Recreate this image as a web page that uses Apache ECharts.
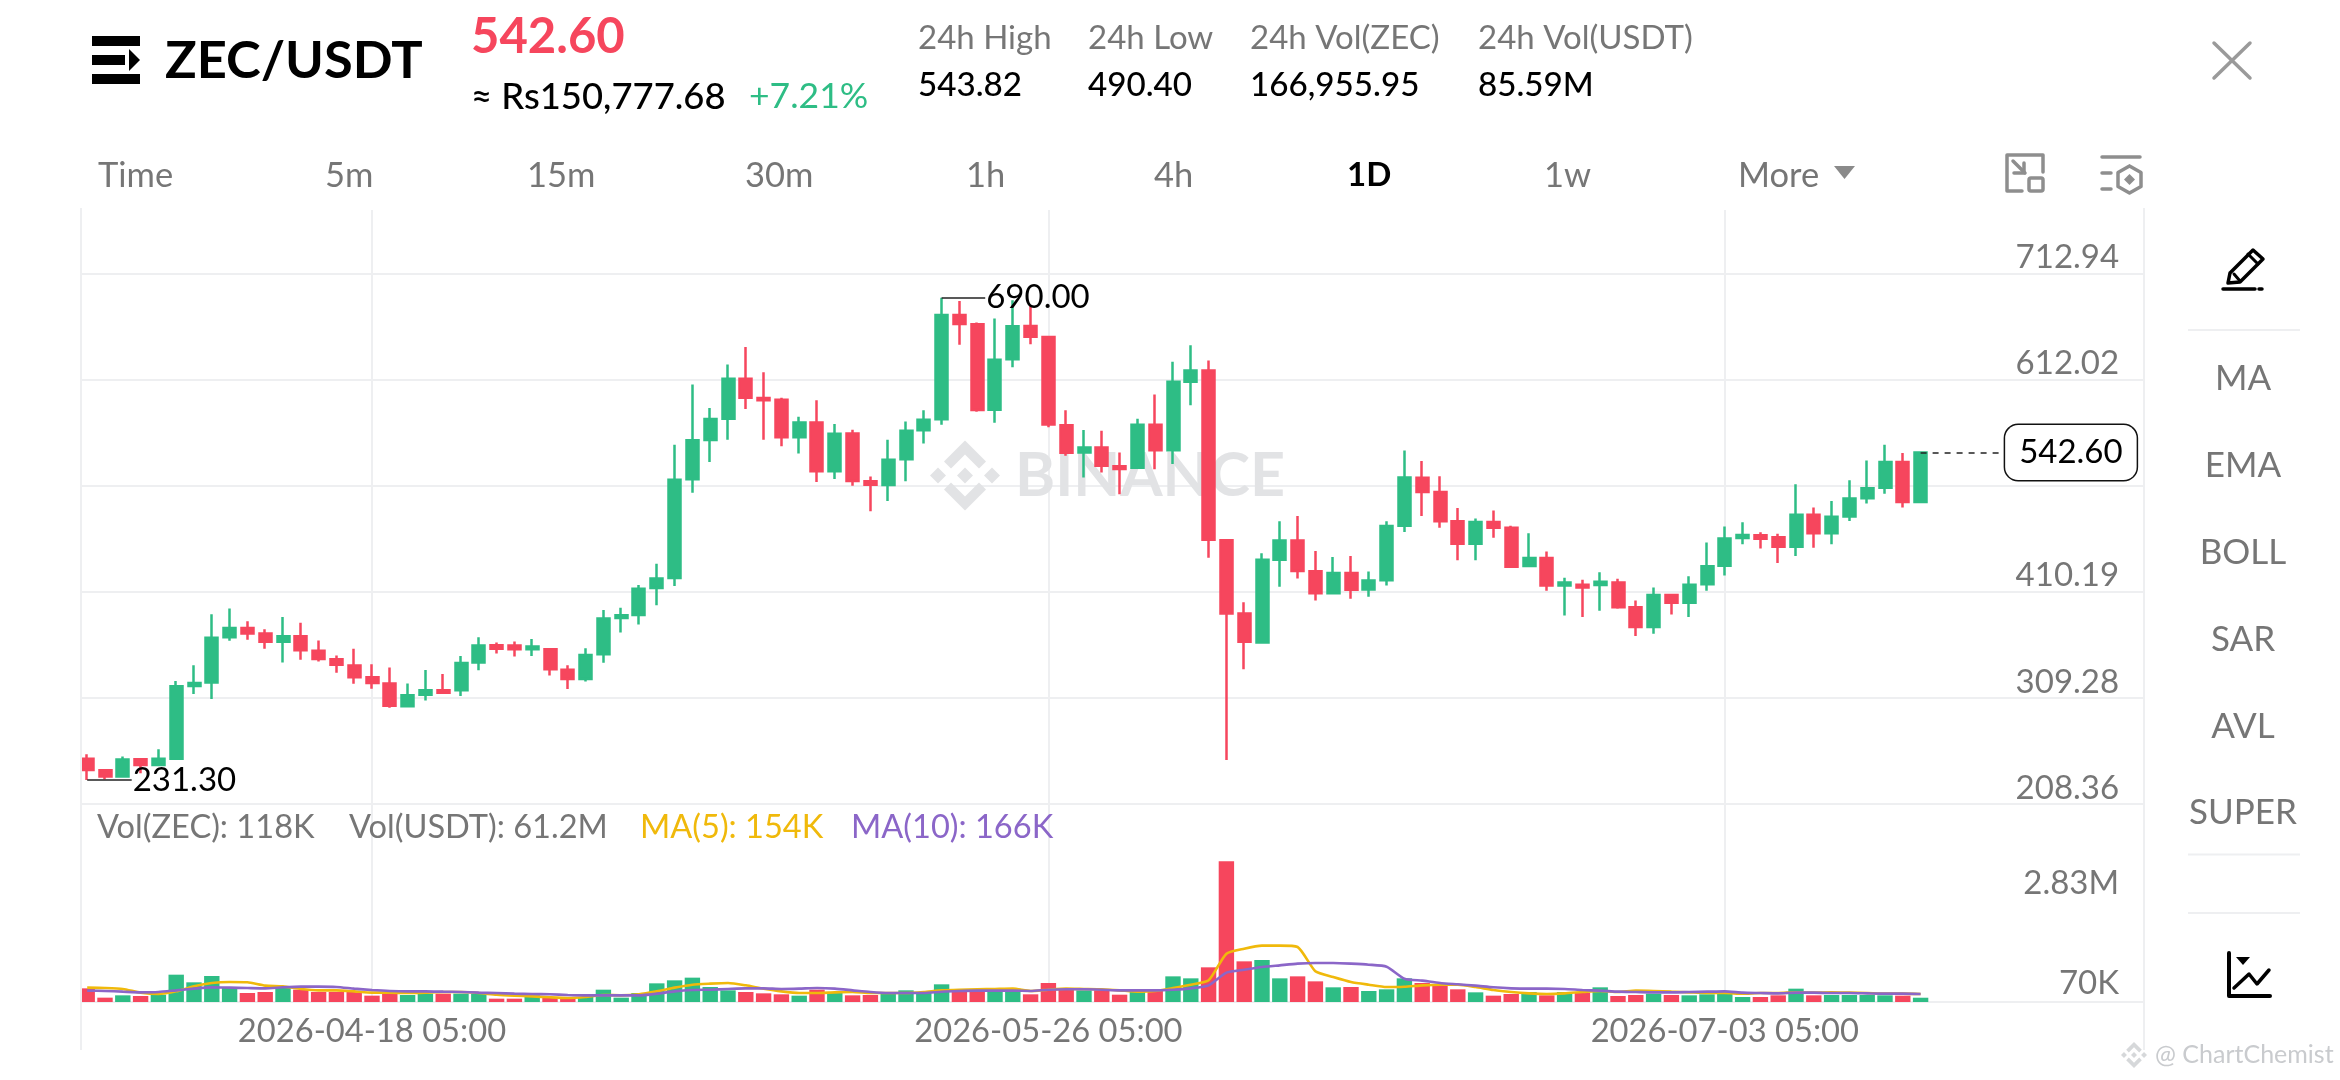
<!DOCTYPE html>
<html><head><meta charset="utf-8">
<script src="https://cdn.jsdelivr.net/npm/echarts@6/dist/echarts.min.js"></script>
<style>html,body{margin:0;padding:0;background:#fff}#c{width:2340px;height:1080px}</style>
</head><body><div id="c"></div>
<script>
const opens=[251.3,240.5,234.6,251.0,245.4,251.3,320.7,324.0,366.9,375.8,370.5,362.7,367.9,354.2,346.0,340.1,328.9,323.0,301.4,312.2,316.5,316.5,343.0,359.4,359.1,355.5,355.5,336.1,327.3,350.9,385.3,388.2,413.8,423.3,517.3,554.6,574.9,612.9,594.6,592.9,557.2,571.3,524.8,560.8,515.3,511.7,536.3,563.8,574.3,673.5,664.7,583.4,631.3,663.0,652.6,568.7,542.8,547.4,529.7,528.1,569.0,544.8,610.0,620.8,459.3,389.5,362.0,440.6,459.0,429.8,408.9,428.2,412.5,421.3,473.1,518.6,505.2,477.3,456.0,476.7,471.1,434.7,442.3,416.1,417.0,416.7,419.0,395.4,376.8,407.2,399.7,417.4,435.1,461.3,463.9,462.2,453.1,483.5,465.9,481.9,499.3,509.1,533.7,495.7];
const closes=[240.8,234.6,250.7,245.4,251.3,320.4,323.4,366.6,375.8,370.5,362.7,367.9,354.5,346.3,340.7,328.9,323.4,301.7,311.9,316.5,314.2,342.4,359.1,356.1,355.5,358.1,336.5,327.3,350.2,384.9,387.9,413.1,422.9,516.9,554.3,574.6,612.9,594.9,592.3,557.2,571.3,524.8,560.5,515.6,512.0,535.9,563.5,573.9,673.5,665.0,583.1,630.9,662.7,652.9,569.4,542.5,547.4,530.1,527.1,569.0,544.8,610.0,620.8,459.6,389.5,362.7,440.6,459.0,430.1,408.9,428.2,412.1,421.0,472.7,518.9,505.2,477.3,456.0,476.7,471.1,434.1,442.3,416.1,419.0,414.4,419.7,395.4,376.8,407.2,399.7,417.0,434.4,460.9,464.2,460.6,453.1,483.5,465.9,481.6,498.9,508.8,533.7,495.7,542.6];
const lows=[231.3,232.0,233.3,237.5,245.0,250.3,312.9,308.3,363.7,364.6,356.1,343.0,345.6,344.0,333.2,322.7,318.1,299.8,301.0,306.7,314.0,311.2,335.5,351.5,348.6,349.2,330.6,317.8,325.0,342.7,371.5,379.1,397.4,415.7,504.5,533.7,554.9,584.1,554.9,548.7,541.8,514.7,517.6,511.1,486.8,496.6,515.3,551.3,569.0,645.3,581.5,571.0,623.7,645.7,566.7,539.5,518.9,523.8,502.9,527.1,526.8,531.7,587.7,442.6,250.3,336.5,361.8,415.1,422.9,402.0,408.5,403.6,405.6,416.1,467.2,482.2,471.1,440.3,440.3,461.6,432.8,434.4,411.1,387.6,386.3,392.2,394.1,368.2,370.2,388.6,386.3,411.1,425.6,455.4,451.4,437.7,444.2,452.1,455.4,477.6,494.3,503.5,490.4,495.7];
const highs=[255.6,241.5,253.6,251.3,260.5,325.3,340.4,388.9,394.4,382.3,374.5,386.3,380.7,364.0,349.6,356.1,341.4,338.1,323.0,335.8,331.9,349.2,366.9,362.0,363.0,365.3,355.7,340.4,356.4,392.8,395.1,416.7,437.0,550.0,607.4,585.1,626.3,643.1,619.1,594.9,576.6,592.3,569.7,564.4,519.9,554.9,572.3,582.8,690.0,686.9,666.3,670.2,687.6,682.0,652.9,582.8,564.1,563.5,542.8,574.9,597.9,629.0,644.7,630.3,459.6,400.3,446.9,477.3,482.2,449.1,443.2,444.2,429.5,477.3,544.5,534.6,520.2,489.8,479.9,487.5,473.1,465.9,448.5,423.6,421.6,428.8,422.6,402.0,414.4,407.3,424.9,457.0,472.4,476.3,466.8,465.5,512.4,490.4,496.6,516.3,535.0,550.0,542.2,543.0];
const volumesK=[377,120,184,166,202,754,543,718,386,248,276,386,340,276,276,285,175,248,193,230,230,230,230,92,92,184,138,92,138,340,120,248,515,598,672,414,322,276,239,212,175,340,248,184,193,267,322,248,488,276,276,386,368,212,524,368,322,322,202,276,304,708,653,957,3882,1122,1159,653,708,570,405,414,304,350,653,524,460,350,267,175,221,276,184,276,258,405,166,193,230,193,184,212,230,138,138,184,368,184,193,193,193,184,175,118];
const ma5K=[396,386,359,258,221,294,432,524,552,543,451,432,359,322,322,294,258,258,248,258,276,276,248,202,175,156,129,110,138,193,184,212,294,396,478,506,524,460,368,294,248,248,267,276,248,248,248,276,322,340,350,359,368,304,340,368,359,350,322,285,304,386,478,598,1334,1472,1555,1555,1518,846,690,552,478,414,423,460,478,478,414,331,276,239,221,239,276,304,276,313,304,285,267,248,248,230,248,248,267,258,267,258,248,230,230,221];
const ma10K=[313,304,285,267,276,322,368,405,396,386,377,405,423,423,414,368,331,304,294,294,285,276,258,248,230,221,212,193,184,184,184,184,230,294,331,340,359,377,377,359,368,386,368,322,276,248,248,248,285,304,313,313,313,304,340,350,350,340,322,322,322,340,377,460,810,892,966,1012,1058,1076,1076,1058,1030,975,644,589,524,488,451,405,377,368,368,359,331,313,285,276,267,267,276,285,294,258,248,239,258,258,248,248,239,230,230,221];
const priceTicks=[208.36,309.28,410.19,511.10,612.02,712.94];
const volumeTicksK=[70,2830];
const xTickLabels={16:'2026-04-18 05:00',54:'2026-05-26 05:00',92:'2026-07-03 05:00'};
const tabs=[['Time',98],['5m',325],['15m',527],['30m',745],['1h',966],['4h',1154],['1w',1544],['More',1738]];
const activeTab='1D';
const indicators=[['MA',379],['EMA',466],['BOLL',553],['SAR',640],['AVL',727],['SUPER',813]];
const stats=[['24h High','543.82',918],['24h Low','490.40',1088],['24h Vol(ZEC)','166,955.95',1250],['24h Vol(USDT)','85.59M',1478]];
const legendItems=[['Vol(ZEC): 118K',97,'#767676'],['Vol(USDT): 61.2M',349,'#767676'],['MA(5): 154K',640,'#F0B90B'],['MA(10): 166K',851,'#8B66C8']];
const lastPrice=542.60, highMark=690.00, lowMark=231.30;

const RED='#F6465D',GREEN='#2EBD85',GRAY='#767676',LINE='#EEEFF1',FONT='Lato';
const bandCount=116, bandW=17.8, gridLeft=78.3;
const categories=[];
for(let i=0;i<bandCount;i++){const d=new Date(Date.UTC(2026,3,2+i));categories.push(d.toISOString().slice(0,10)+' 05:00');}
const candleData=opens.map((o,i)=>[o,closes[i],lows[i],highs[i]]);

function T(x,y,text,size,color,weight,align){
  return {type:'text',x,y,z:50,silent:true,style:{text,fill:color,font:`${weight||'normal'} ${size}px ${FONT}`,textAlign:align||'left',textVerticalAlign:'middle'}};
}
function R(x,y,w,h,fill,z){return {type:'rect',z:z||50,silent:true,shape:{x,y,width:w,height:h},style:{fill}};}
function L(x1,y1,x2,y2,color,width){return {type:'line',z:50,silent:true,shape:{x1,y1,x2,y2},style:{stroke:color,lineWidth:width||2,lineCap:'round'}};}
function P(points,fill,z){return {type:'polygon',z:z||50,silent:true,shape:{points},style:{fill}};}
function PL(points,color,width){return {type:'polyline',z:50,silent:true,shape:{points},style:{stroke:color,lineWidth:width,fill:null,lineJoin:'round',lineCap:'round'}};}
function binanceMark(cx,cy,r,c,z){
  const s=r/35;
  const q=(dx,dy,rr)=>[[cx+dx*s,cy+(dy-rr)*s],[cx+(dx+rr)*s,cy+dy*s],[cx+dx*s,cy+(dy+rr)*s],[cx+(dx-rr)*s,cy+dy*s]];
  return [
    P(q(0,0,8),c,z),P(q(-27,0,8),c,z),P(q(27,0,8),c,z),
    P([[cx,cy-35*s],[cx+21*s,cy-14*s],[cx+14*s,cy-7*s],[cx,cy-21*s],[cx-14*s,cy-7*s],[cx-21*s,cy-14*s]],c,z),
    P([[cx,cy+35*s],[cx+21*s,cy+14*s],[cx+14*s,cy+7*s],[cx,cy+21*s],[cx-14*s,cy+7*s],[cx-21*s,cy+14*s]],c,z)
  ];
}
const g=[];
// watermark (beneath the series)
g.push(...binanceMark(965,475.6,35,'#E2E3E5',1));
g.push({type:'text',x:1015,y:476,z:1,silent:true,style:{text:'BINANCE',fill:'#E2E3E5',font:`bold 61px ${FONT}`,textVerticalAlign:'middle'}});
// frame
g.push(R(60,205,20.5,850,'#fff',40));
g.push(R(80,208,2,842,LINE,41));
g.push(R(2143,208,2,842,LINE,41));
// header
g.push(R(92,36,48,10,'#000'),R(92,55,33,10,'#000'),P([[129,49],[140,60],[129,71]],'#000'),R(92,74,48,10,'#000'));
g.push(T(165,61,'ZEC/USDT',52.4,'#000','bold'));
g.push(T(471,37,'542.60',49,RED,'bold'));
g.push(T(471,97,'≈ Rs150,777.68',36.4,'#000','500'));
g.push(T(749,97,'+7.21%',35.5,GREEN));
stats.forEach(s=>{g.push(T(s[2],38,s[0],33,GRAY));g.push(T(s[2],85,s[1],33.2,'#000','500'));});
g.push(L(2214,43,2250,78,'#9A9A9A',3.5),L(2250,43,2214,78,'#9A9A9A',3.5));
// tabs
tabs.forEach(t=>g.push(T(t[1],176,t[0],34.5,GRAY)));
g.push(T(1347,175,activeTab,33,'#000','bold'));
g.push(P([[1834,166],[1855,166],[1844.5,179]],'#8A8A8A'));
// toolbar icons
const IC='#8E8E8E';
g.push(PL([[2022,191],[2007,191],[2007,155],[2043,155],[2043,172]],IC,3.5),PL([[2013,161],[2025,173]],IC,3.5),PL([[2024,163],[2024,173],[2014,173]],IC,3.5),{type:'rect',z:50,silent:true,shape:{x:2029,y:178,width:14,height:13,r:2},style:{stroke:IC,lineWidth:3.5,fill:null}});
g.push(L(2102,157,2140,157,IC,3.5),L(2102,173,2111,173,IC,3.5),L(2102,189,2111,189,IC,3.5),PL([[2129.5,166],[2141,172.5],[2141,186.5],[2129.5,193],[2118,186.5],[2118,172.5],[2129.5,166]],IC,3.5),P([[2129.5,174],[2135,179.5],[2129.5,185],[2124,179.5]],IC));
// legends inside the volume pane
legendItems.forEach(l=>g.push(T(l[1],827,l[0],32.6,l[2])));
// side panel
g.push(PL([[2230,273],[2253,250],[2263,259],[2240,282],[2228,283],[2230,273]],'#000',3.5),L(2248,254,2258,264,'#000',3),L(2234,274,2240,281,'#000',3),L(2223,289,2255,289,'#000',3.5),L(2259,289,2262,289,'#000',3.5));
[330,854.5,913].forEach(y=>g.push(R(2188,y-1,112,2,LINE)));
indicators.forEach(m=>g.push(T(2243,m[1],m[0],35,GRAY,'normal','center')));
g.push(PL([[2229,953],[2229,996],[2270,996]],'#000',4),P([[2236,957],[2250,957],[2243,965]],'#000'),PL([[2234,988],[2249,974],[2257,984],[2269,970]],'#000',3.5));
// footer watermark
g.push(...binanceMark(2134,1055,13,'#D6D8DA',50));
g.push(T(2155,1055,'@ ChartChemist',25,'#C9CBCE'));

const chart=echarts.init(document.getElementById('c'),null,{renderer:'canvas',width:2340,height:1080});
const labelCommon={fontFamily:FONT,fontSize:33,lineHeight:32,color:GRAY,inside:true,margin:24,verticalAlign:'bottom',hideOverlap:false,showMinLabel:true,showMaxLabel:true};
const tickFn=i=>xTickLabels[i]!==undefined;
const vertical={show:true,interval:tickFn,alignWithLabel:true,lineStyle:{color:LINE,width:2}};
const markerLabel=(text)=>({show:true,position:'end',distance:1,formatter:text,fontFamily:FONT,fontSize:33,color:'#000'});
chart.setOption({
  animation:false,backgroundColor:'#fff',
  grid:[
    {left:gridLeft,top:210,width:bandW*bandCount,height:594,containLabel:false},
    {left:gridLeft,top:804,width:bandW*bandCount,height:198,containLabel:false}
  ],
  xAxis:[
    {type:'category',gridIndex:0,data:categories,axisLine:{show:false},axisTick:{show:false},axisLabel:{show:false},splitLine:vertical},
    {type:'category',gridIndex:1,data:categories,axisLine:{show:true,lineStyle:{color:LINE,width:2}},axisTick:{show:false},splitLine:vertical,
      axisLabel:{interval:tickFn,formatter:(v,i)=>xTickLabels[i]||'',fontFamily:FONT,fontSize:32.7,color:GRAY,margin:13}},
    {type:'value',gridIndex:0,min:-0.5,max:bandCount-0.5,show:false}
  ],
  yAxis:[
    {type:'value',gridIndex:0,position:'right',min:208.36,max:208.36+594/1.0513,scale:true,
     axisLine:{show:false},axisTick:{show:false,customValues:priceTicks},
     axisLabel:Object.assign({},labelCommon,{customValues:priceTicks,formatter:v=>v.toFixed(2)}),
     splitLine:{show:true,lineStyle:{color:LINE,width:2}}},
    {type:'value',gridIndex:1,position:'right',min:0,max:198*27.6,
     axisLine:{show:false},axisTick:{show:false,customValues:volumeTicksK},
     axisLabel:Object.assign({},labelCommon,{customValues:volumeTicksK,formatter:v=>v>=1000?(v/1000).toFixed(2)+'M':v+'K'}),
     splitLine:{show:false}}
  ],
  series:[
    {type:'candlestick',name:'ZEC/USDT',xAxisIndex:0,yAxisIndex:0,data:candleData,barWidth:12.5,
     itemStyle:{color:GREEN,color0:RED,borderColor:GREEN,borderColor0:RED,borderWidth:2.5}},
    {type:'line',name:'marks',xAxisIndex:2,yAxisIndex:0,data:[[103,lastPrice]],symbol:'none',lineStyle:{opacity:0},silent:true,
     markLine:{silent:true,symbol:'none',animation:false,
       data:[
        [{coord:[48,highMark],lineStyle:{color:'#222',type:'solid',width:1.5},label:markerLabel(highMark.toFixed(2))},{coord:[50.45,highMark]}],
        [{coord:[0,lowMark],lineStyle:{color:'#222',type:'solid',width:1.5},label:markerLabel(lowMark.toFixed(2))},{coord:[2.5,lowMark]}],
        [{coord:[103,lastPrice],lineStyle:{color:'#222',type:[6,6],width:1.5},
          label:{show:true,position:'end',distance:0,formatter:lastPrice.toFixed(2),fontFamily:FONT,fontSize:33,lineHeight:32,color:'#000',backgroundColor:'#fff',borderColor:'#111',borderWidth:1.5,borderRadius:13,padding:[12,14,11,14]}},{coord:[107.75,lastPrice]}]
       ]}},
    {type:'bar',name:'Volume',xAxisIndex:1,yAxisIndex:1,data:volumesK,barWidth:15.4,
     itemStyle:{color:p=>closes[p.dataIndex]>=opens[p.dataIndex]?GREEN:RED}},
    {type:'line',name:'MA(5)',xAxisIndex:1,yAxisIndex:1,data:ma5K,symbol:'none',smooth:0.2,lineStyle:{color:'#F0B90B',width:2.6},z:4},
    {type:'line',name:'MA(10)',xAxisIndex:1,yAxisIndex:1,data:ma10K,symbol:'none',smooth:0.2,lineStyle:{color:'#8B66C8',width:2.6},z:5}
  ],
  graphic:{elements:g}
});
</script></body></html>
